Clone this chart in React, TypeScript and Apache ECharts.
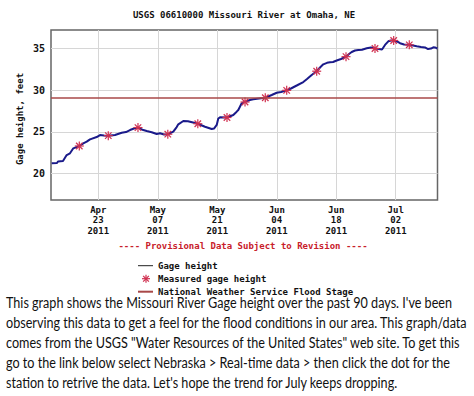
import React, { useEffect, useRef } from "react";
import * as echarts from "echarts";

// Days counted from 2011-04-09 (so Apr 23 = 14, May 07 = 28, ...)
const DAYS = [
  3.03, 4.28, 4.52, 5.69, 6.56, 7.34, 8.12, 9.53, 10.47, 11.27, 12.05, 13.62, 14.4, 15.34, 16.35, 17.93,
  19.51, 20.52, 21.46, 22.4, 23.34, 24.59, 25.39, 26.57, 27.75, 28.52, 29.46, 30.36, 31.65, 32.45, 32.83,
  34.01, 35.11, 36.29, 37.42, 39.11, 40.69, 41.23, 41.87, 42.24, 42.64, 44.29, 45.77, 46.57, 46.95, 47.75,
  48.53, 49.7, 50.48, 51.82, 53.3, 54.81, 55.99, 57.0, 58.34, 59.35, 60.69, 62.25, 63.12, 64.22, 65.4,
  66.18, 66.95, 67.83, 68.53, 69.24, 70.11, 71.12, 72.3, 73.0, 73.64, 74.42, 75.19, 76.06, 77.17, 78.18,
  79.12, 80.06, 80.77, 81.48, 82.25, 82.89, 83.52, 84.3, 85.01, 85.95, 87.2, 88.07, 88.94, 89.95, 90.89,
  91.6, 92.3, 92.84, 93.24, 93.83,
];
const GAGE_HEIGHT = [
  21.21, 21.24, 21.42, 21.48, 22.2, 22.41, 23.01, 23.29, 23.61, 23.81, 24.09, 24.37, 24.61, 24.55, 24.53,
  24.61, 24.89, 24.97, 25.21, 25.39, 25.51, 25.21, 25.09, 24.94, 24.73, 24.82, 24.67, 24.7, 25.01, 25.57,
  25.9, 26.3, 26.26, 26.12, 25.97, 25.61, 25.33, 25.39, 25.82, 26.6, 26.74, 26.72, 27.02, 27.42, 27.62,
  28.43, 28.62, 28.83, 28.91, 29.01, 29.1, 29.43, 29.7, 29.79, 29.99, 30.21, 30.57, 30.99, 31.35, 31.83,
  32.29, 32.74, 33.12, 33.3, 33.36, 33.4, 33.58, 33.76, 34.04, 34.36, 34.6, 34.78, 34.84, 34.88, 35.05,
  35.15, 35.02, 34.96, 34.9, 35.45, 35.89, 35.99, 35.99, 35.87, 35.66, 35.51, 35.47, 35.39, 35.29, 35.21,
  35.15, 34.96, 35.02, 35.17, 35.15, 35.0,
];
const MEASURED_DAYS = [9.53, 16.35, 23.34, 30.36, 37.42, 44.29, 48.53, 53.3, 58.34, 65.4, 72.3, 79.12, 83.52, 87.19];
const MEASURED_HEIGHT = [23.29, 24.53, 25.51, 24.71, 25.97, 26.72, 28.58, 29.1, 29.99, 32.29, 34.04, 35.02, 35.99, 35.47];
const FLOOD_STAGE = 29.07;

const X_MIN = 2.87;
const X_MAX = 93.83;
const Y_MIN = 16.79;
const Y_MAX = 37.25;
const X_TICKS = [14, 28, 42, 56, 70, 84];
const X_TICK_LABELS = ["Apr\n23\n2011", "May\n07\n2011", "May\n21\n2011", "Jun\n04\n2011", "Jun\n18\n2011", "Jul\n02\n2011"];
const Y_TICKS = [20, 25, 30, 35];

const TITLE = "USGS 06610000 Missouri River at Omaha, NE";
const Y_NAME = "Gage height, feet";
const PROVISIONAL = "---- Provisional Data Subject to Revision ----";
const LEGEND_NAMES = ["Gage height", "Measured gage height", "National Weather Service Flood Stage"];
const PARAGRAPH = [
  "This graph shows the Missouri River Gage height over the past 90 days. I've been",
  "observing this data to get a feel for the flood conditions in our area. This graph/data",
  "comes from the USGS \"Water Resources of the United States\" web site. To get this",
  "go to the link below select Nebraska > Real-time data > then click the dot for the",
  "station to retrive the data. Let's hope the trend for July keeps dropping.",
];

const MONO = "'DejaVu Sans Mono', monospace";
const NAVY = "#1a1a8a";
const STAR = "#d03050";
const FLOOD = "#a84848";

function asterisk(cx: number, cy: number, r: number, color: string) {
  const d = r * 0.72;
  const segs = [
    [-r, 0, r, 0],
    [0, -r, 0, r],
    [-d, -d, d, d],
    [-d, d, d, -d],
  ];
  return segs.map((s) => ({
    type: "line",
    shape: { x1: cx + s[0], y1: cy + s[1], x2: cx + s[2], y2: cy + s[3] },
    style: { stroke: color, lineWidth: 1.2 },
  }));
}

export default function App() {
  const ref = useRef<HTMLDivElement>(null);
  useEffect(() => {
    if (!ref.current) return;
    const chart = echarts.init(ref.current, null, { renderer: "svg" });

    const canvas = document.createElement("canvas");
    const ctx = canvas.getContext("2d")!;
    ctx.font = "15px Lato";
    const w1 = ctx.measureText(PARAGRAPH[0]).width || 447;
    const sx = 447 / w1;

    const lineData = DAYS.map((d, i) => [d, GAGE_HEIGHT[i]]);
    const measData = MEASURED_DAYS.map((d, i) => [d, MEASURED_HEIGHT[i]]);

    const legendY = [265.7, 278.7, 291.7];

    const graphics: any[] = [
      {
        type: "text",
        x: 244,
        y: 15,
        style: { text: TITLE, fontFamily: MONO, fontWeight: "bold", fontSize: 9, fill: "#111", align: "center", verticalAlign: "middle" },
      },
      {
        type: "text",
        x: 20,
        y: 119,
        rotation: Math.PI / 2,
        style: { text: Y_NAME, fontFamily: MONO, fontWeight: "bold", fontSize: 9, fill: "#111", align: "center", verticalAlign: "middle" },
      },
      {
        type: "text",
        x: 243,
        y: 246,
        style: { text: PROVISIONAL, fontFamily: MONO, fontWeight: "bold", fontSize: 9, fill: "#c8202a", align: "center", verticalAlign: "middle" },
      },
      {
        type: "line",
        shape: { x1: 138, y1: legendY[0], x2: 153, y2: legendY[0] },
        style: { stroke: "#222", lineWidth: 1 },
      },
      { type: "group", children: asterisk(146, legendY[1], 4, STAR) },
      {
        type: "line",
        shape: { x1: 138, y1: legendY[2], x2: 153, y2: legendY[2] },
        style: { stroke: FLOOD, lineWidth: 2 },
      },
      ...LEGEND_NAMES.map((n, i) => ({
        type: "text",
        x: 158,
        y: legendY[i],
        style: { text: n, fontFamily: MONO, fontWeight: "bold", fontSize: 9, fill: "#111", align: "left", verticalAlign: "middle" },
      })),
      ...PARAGRAPH.map((t, i) => ({
        type: "text",
        x: 6,
        y: 301.7 + i * 20,
        scaleX: sx,
        style: { text: t, fontFamily: "Lato", fontSize: 15, fill: "#111", align: "left", verticalAlign: "middle" },
      })),
    ];

    chart.setOption({
      animation: false,
      backgroundColor: "#fff",
      grid: {
        left: 51,
        top: 30,
        right: 36.5,
        bottom: 196,
        show: true,
        borderColor: "#666",
        borderWidth: 1.5,
        backgroundColor: "transparent",
      },
      xAxis: {
        type: "value",
        min: X_MIN,
        max: X_MAX,
        axisLine: { show: false },
        axisTick: { show: false, customValues: X_TICKS },
        splitLine: { show: true, lineStyle: { color: "#d6d6d6", width: 1 } },
        axisLabel: {
          customValues: X_TICKS,
          formatter: (v: number) => {
            const i = X_TICKS.indexOf(Math.round(v));
            return i >= 0 ? X_TICK_LABELS[i] : "";
          },
          fontFamily: MONO,
          fontWeight: "bold",
          fontSize: 9,
          color: "#111",
          lineHeight: 10.3,
          margin: 5,
        },
      },
      yAxis: {
        type: "value",
        min: Y_MIN,
        max: Y_MAX,
        axisLine: { show: false },
        axisTick: { show: false, customValues: Y_TICKS },
        splitLine: { show: true, lineStyle: { color: "#d6d6d6", width: 1 } },
        axisLabel: {
          customValues: Y_TICKS,
          fontFamily: MONO,
          fontWeight: "bold",
          fontSize: 10,
          color: "#111",
          margin: 6,
        },
      },
      series: [
        {
          name: LEGEND_NAMES[2],
          type: "line",
          data: [],
          markLine: {
            silent: true,
            symbol: "none",
            label: { show: false },
            lineStyle: { color: FLOOD, width: 1.5, type: "solid" },
            data: [{ yAxis: FLOOD_STAGE }],
          },
        },
        {
          name: LEGEND_NAMES[0],
          type: "line",
          data: lineData,
          showSymbol: false,
          lineStyle: { color: NAVY, width: 2 },
          z: 3,
        },
        {
          name: LEGEND_NAMES[1],
          type: "custom",
          data: measData,
          encode: { x: 0, y: 1 },
          z: 4,
          renderItem: (params: any, api: any) => {
            const p = api.coord([api.value(0), api.value(1)]);
            return { type: "group", children: asterisk(p[0], p[1], 4.5, STAR) };
          },
        },
      ],
      graphic: graphics,
    });
    return () => chart.dispose();
  }, []);
  return <div ref={ref} style={{ position: "fixed", left: 0, top: 0, width: 474, height: 396, background: "#fff" }} />;
}
